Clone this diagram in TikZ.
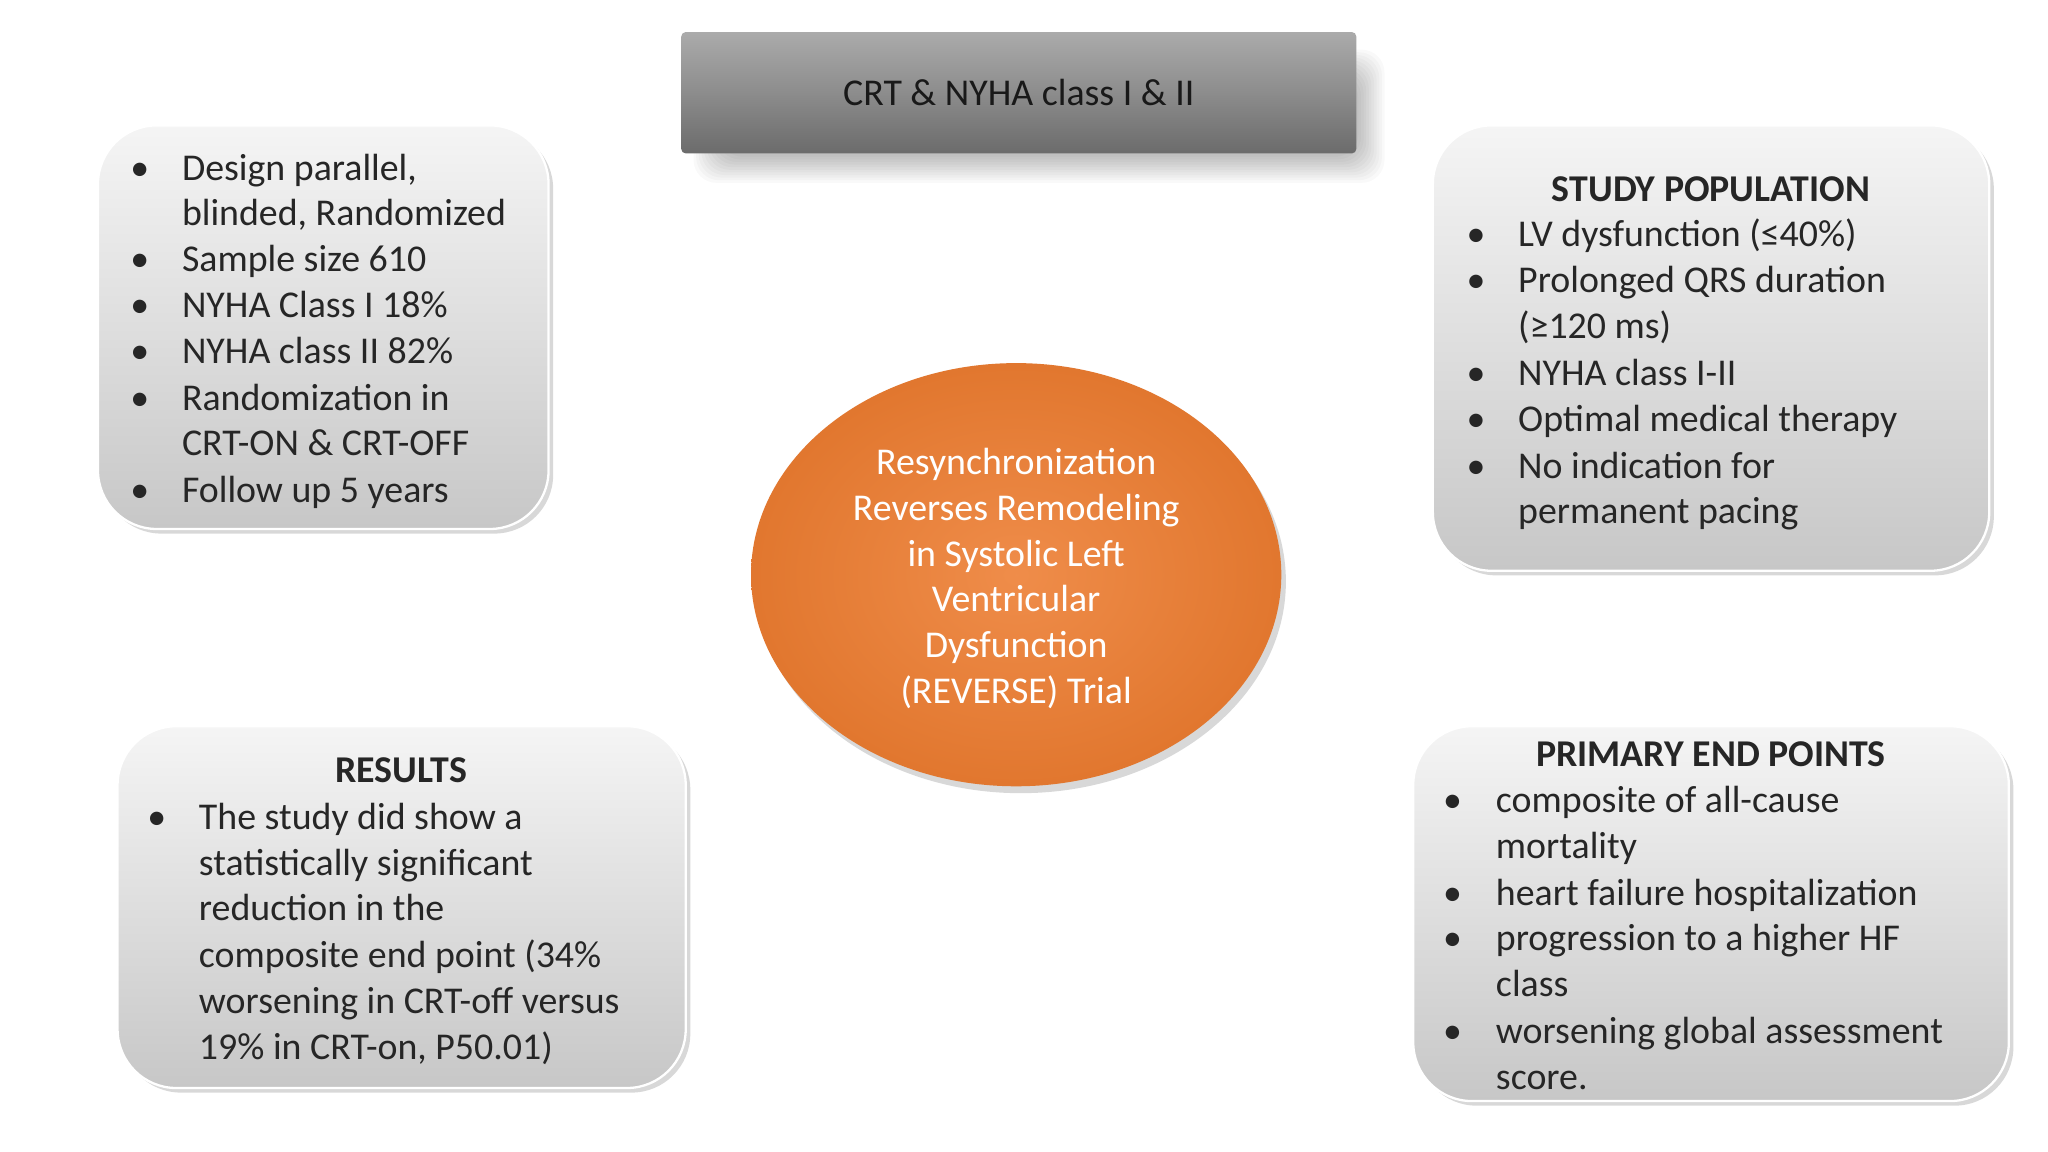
\documentclass[tikz,border=0pt]{standalone}
\usepackage{fontspec}
\setmainfont{Carlito}
\usetikzlibrary{shadows,fadings}
\definecolor{orng}{HTML}{ED7D31}
\tikzset{
  px/.style={x=0.02cm,y=-0.02cm},
  card/.style={rounded corners=0.9cm,top color=white!92!gray,bottom color=black!22,draw=white,line width=1pt,
     drop shadow={shadow xshift=2pt,shadow yshift=-2pt,opacity=0.3}},
  txt/.style={anchor=base west,inner sep=0pt,font=\fontsize{16.5}{19.9}\selectfont,text=black!85},
  ttl/.style={anchor=base,inner sep=0pt,font=\fontsize{16.5}{19.9}\selectfont\bfseries,text=black!85},
  bul/.style={anchor=base,inner sep=0pt,font=\fontsize{16.5}{19.9}\selectfont,text=black!85},
}
\begin{document}
\begin{tikzpicture}[px]
\useasboundingbox (0,0) rectangle (1568,882);
\fill[white] (0,0) rectangle (1568,882);
% top bar soft shadow
\foreach \k in {0,2,...,20}
  \fill[black,opacity=0.025,rounded corners=10pt] (531+\k,38+\k) rectangle (1060-\k,140-\k);
\node[draw=none,minimum width=10.34cm,minimum height=1.86cm,top color=black!33,bottom color=black!58,
  middle color=black!45,rounded corners=2pt] (top) at (780,71) {};
\node[inner sep=0pt,font=\fontsize{16.5}{19.9}\selectfont,text=black!90] (toptxt) at (780,71) {CRT \& NYHA class I \& II};
% cards
\draw[card] (75,96) rectangle (420,405);
\draw[card] (1097,96) rectangle (1523,437);
\draw[card] (90,556) rectangle (525,833);
\draw[card] (1082,556) rectangle (1538,843);
% ellipse
\shade[inner color=orng!88!white,outer color=orng!95!black,drop shadow={shadow xshift=2pt,shadow yshift=-3pt,opacity=0.3}]
  (778,440) ellipse [x radius=203,y radius=162];
\node[inner sep=0pt,align=center,text=white,font=\fontsize{16.5}{19.9}\selectfont] (ell) at (778,443)
 {Resynchronization\\Reverses Remodeling\\in Systolic Left\\Ventricular\\Dysfunction\\(REVERSE) Trial};
% left top
\foreach \t/\y [count=\i] in {{Design parallel,}/128,{blinded, Randomized}/163,{Sample size 610}/198,{NYHA Class I 18\%}/233,{NYHA class II 82\%}/268,{Randomization in}/304,{CRT-ON \& CRT-OFF}/339,{Follow up 5 years}/375}
  \node[txt] (lt\i) at (139,\y+10) {\t};
\foreach \y [count=\i] in {128,198,233,268,304,375} \node[bul] (ltb\i) at (107,\y+10) {•};
% right top
\node[ttl] (rtt) at (1310,154) {STUDY POPULATION};
\foreach \t/\y [count=\i] in {{LV dysfunction (≤40\%)}/179,{Prolonged QRS duration}/214,{(≥120 ms)}/249,{NYHA class I-II}/285,{Optimal medical therapy}/320,{No indication for}/356,{permanent pacing}/391}
  \node[txt] (rt\i) at (1162,\y+10) {\t};
\foreach \y [count=\i] in {179,214,285,320,356} \node[bul] (rtb\i) at (1130,\y+10) {•};
% bottom left
\node[ttl] (blt) at (307,599) {RESULTS};
\foreach \t/\y [count=\i] in {{The study did show a}/625,{statistically significant}/660,{reduction in the}/695,{composite end point (34\%}/731,{worsening in CRT-off versus}/766,{19\% in CRT-on, P50.01)}/801}
  \node[txt] (bl\i) at (152,\y+10) {\t};
\node[bul] (blb1) at (120,635) {•};
% bottom right
\node[ttl] (brt) at (1310,587) {PRIMARY END POINTS};
\foreach \t/\y [count=\i] in {{composite of all-cause}/612,{mortality}/647,{heart failure hospitalization}/683,{progression to a higher HF}/718,{class}/753,{worsening global assessment}/789,{score.}/824}
  \node[txt] (br\i) at (1145,\y+10) {\t};
\foreach \y [count=\i] in {612,683,718,789} \node[bul] (brb\i) at (1112,\y+10) {•};
\end{tikzpicture}
\end{document}
